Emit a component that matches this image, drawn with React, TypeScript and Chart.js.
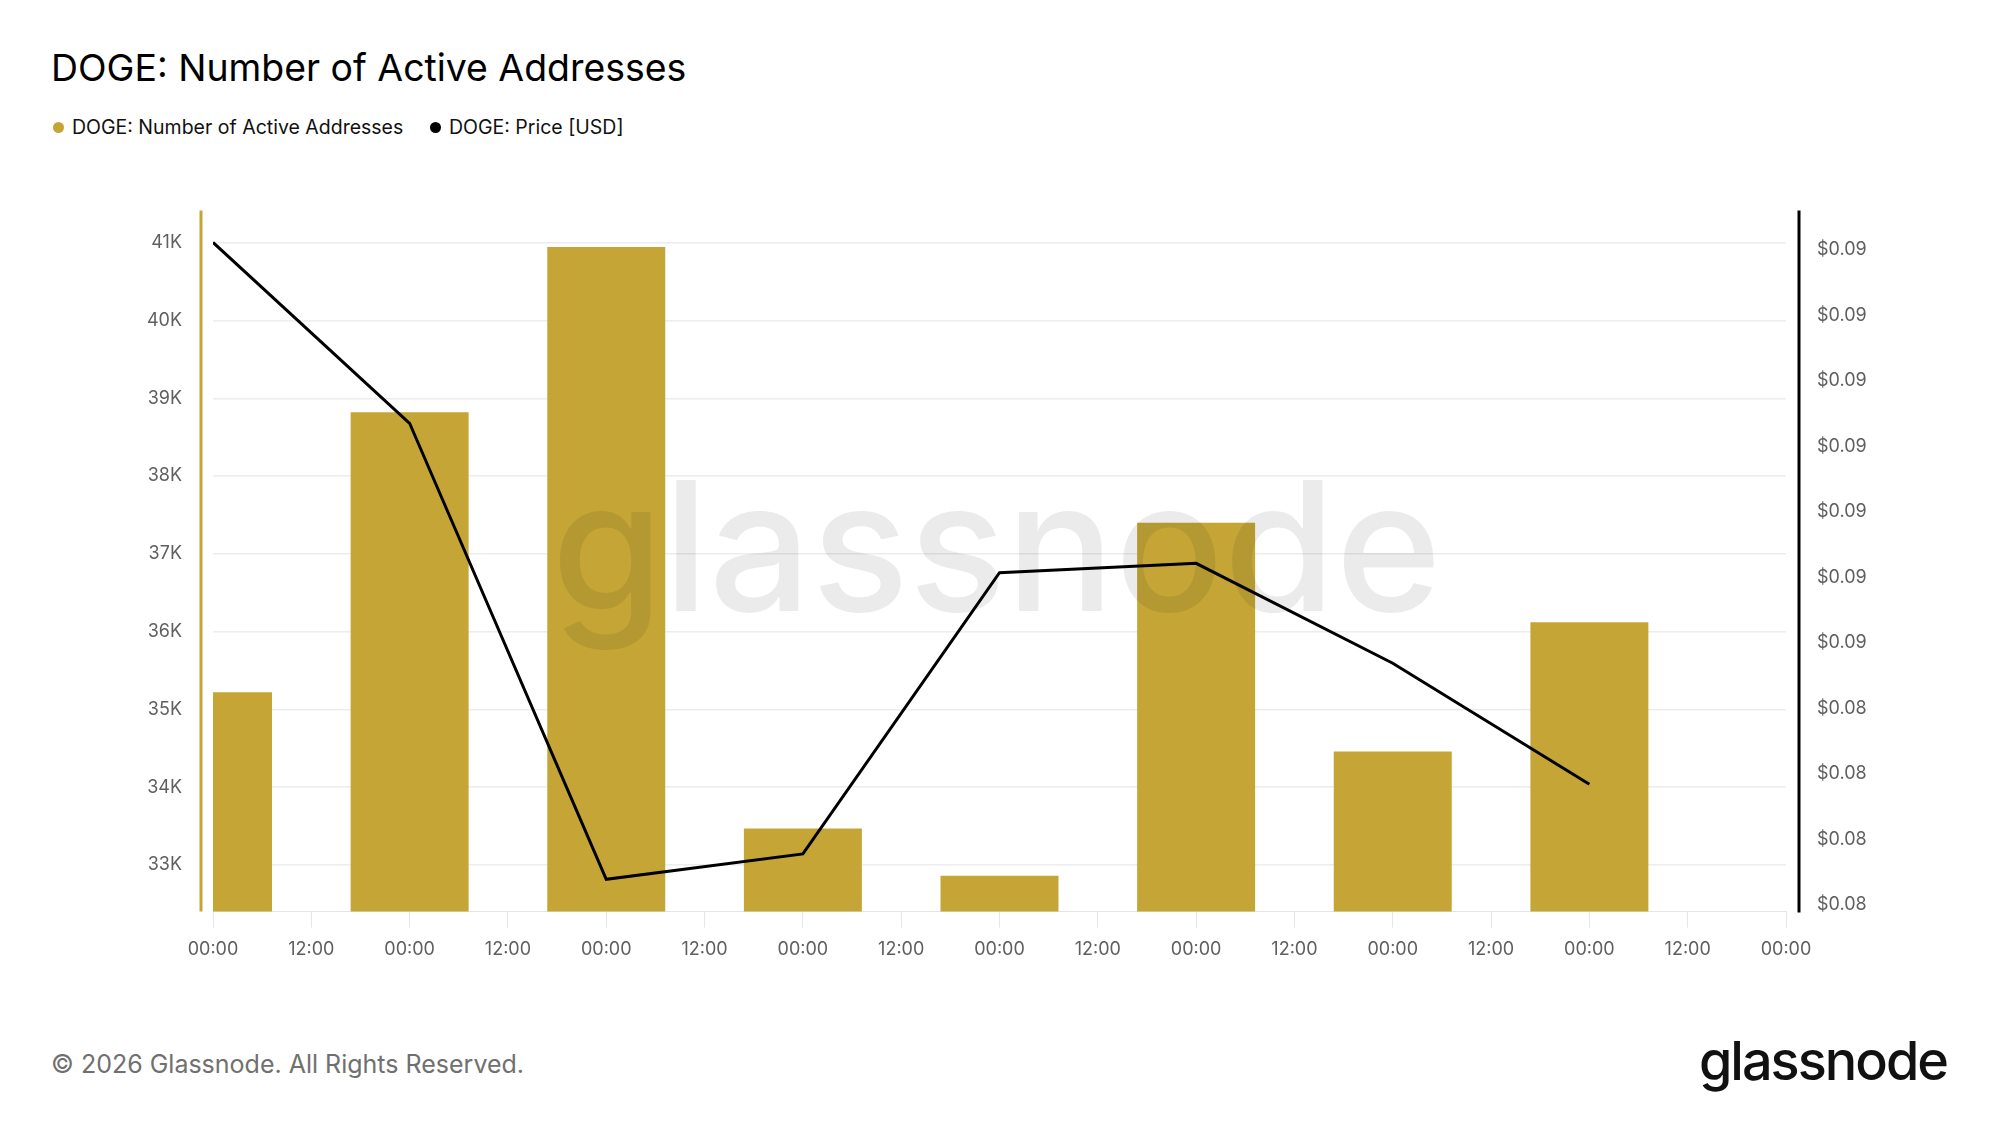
import React, { useEffect, useRef } from "react";
import { Chart, registerables } from "chart.js";

Chart.register(...registerables);

// ---- data ----
const DAYS = [0, 1, 2, 3, 4, 5, 6, 7];
const ACTIVE_ADDRESSES = [35220, 38820, 40945, 33470, 32860, 37400, 34460, 36120];
const PRICE_USD = [0.088057, 0.086676, 0.083195, 0.083388, 0.085535, 0.085607, 0.084844, 0.08392];

const X_TICK_VALUES = [0, 0.5, 1, 1.5, 2, 2.5, 3, 3.5, 4, 4.5, 5, 5.5, 6, 6.5, 7, 7.5, 8];
const X_TICK_LABELS = [
  "00:00", "12:00", "00:00", "12:00", "00:00", "12:00", "00:00", "12:00", "00:00",
  "12:00", "00:00", "12:00", "00:00", "12:00", "00:00", "12:00", "00:00",
];
const ADDR_TICKS = [33000, 34000, 35000, 36000, 37000, 38000, 39000, 40000, 41000];
const PRICE_TICKS = [0.083, 0.0835, 0.084, 0.0845, 0.085, 0.0855, 0.086, 0.0865, 0.087, 0.0875, 0.088];
const X_RANGE = [0, 8];
const ADDR_RANGE = [32400, 41400];
const PRICE_RANGE = [0.082948, 0.088292];

const TITLE = "DOGE: Number of Active Addresses";
const LEGEND_ADDR = "DOGE: Number of Active Addresses";
const LEGEND_PRICE = "DOGE: Price [USD]";
const FOOTER = "© 2026 Glassnode. All Rights Reserved.";
const LOGO = "glassnode";

// ---- styles ----
const GOLD = "#C4A536";
const FONT = "Inter, 'Noto Sans', sans-serif";
const TICK_COLOR = "#5f5f5f";
const GRID_COLOR = "#ececf1";

const axisLinesPlugin = {
  id: "axisLines",
  afterDraw(chart: any) {
    const { ctx, chartArea } = chart;
    ctx.save();
    ctx.lineWidth = 3;
    ctx.strokeStyle = GOLD;
    ctx.beginPath();
    ctx.moveTo(chartArea.left - 12, chartArea.top - 1);
    ctx.lineTo(chartArea.left - 12, chartArea.bottom);
    ctx.stroke();
    ctx.strokeStyle = "#000000";
    ctx.beginPath();
    ctx.moveTo(chartArea.right + 13, chartArea.top - 1);
    ctx.lineTo(chartArea.right + 13, chartArea.bottom + 1);
    ctx.stroke();
    ctx.restore();
  },
};

const watermarkPlugin = {
  id: "watermark",
  afterDatasetDraw(chart: any, args: any) {
    if (args.meta.type !== "bar") return;
    const { ctx, chartArea } = chart;
    ctx.save();
    ctx.font = `500 100px ${FONT}`;
    const w = ctx.measureText(LOGO).width;
    const size = (100 * (chartArea.width * 0.566)) / w;
    ctx.font = `500 ${size}px ${FONT}`;
    ctx.fillStyle = "rgba(0,0,0,0.08)";
    ctx.textAlign = "center";
    ctx.textBaseline = "alphabetic";
    const cx = (chartArea.left + chartArea.right) / 2 - 3;
    const cy = (chartArea.top + chartArea.bottom) / 2;
    ctx.fillText(LOGO, cx, cy + size * 0.275);
    ctx.restore();
  },
};

export default function App() {
  const ref = useRef<HTMLCanvasElement | null>(null);

  useEffect(() => {
    if (!ref.current) return;
    const tickFont = { family: FONT, size: 18 };
    const chart = new Chart(ref.current, {
      type: "bar",
      data: {
        datasets: [
          {
            type: "line",
            label: LEGEND_PRICE,
            data: DAYS.map((d, i) => ({ x: d, y: PRICE_USD[i] })),
            xAxisID: "x",
            yAxisID: "yPrice",
            borderColor: "#000000",
            borderWidth: 3,
            pointRadius: 0,
            tension: 0,
            order: 0,
          } as any,
          {
            type: "bar",
            label: LEGEND_ADDR,
            data: DAYS.map((d, i) => ({ x: d, y: ACTIVE_ADDRESSES[i] })),
            xAxisID: "x",
            yAxisID: "yAddr",
            backgroundColor: GOLD,
            borderWidth: 0,
            barPercentage: 1.2,
            categoryPercentage: 1,
            order: 1,
          } as any,
        ],
      },
      options: {
        animation: false,
        responsive: false,
        devicePixelRatio: 1,
        layout: { padding: { top: 61.6, bottom: 18.4, left: 0, right: 0 } },
        plugins: { legend: { display: false }, tooltip: { enabled: false }, title: { display: false } },
        scales: {
          x: {
            type: "linear",
            min: X_RANGE[0],
            max: X_RANGE[1],
            offset: false,
            afterBuildTicks: (s: any) => {
              s.ticks = X_TICK_VALUES.map((v) => ({ value: v }));
            },
            ticks: {
              autoSkip: false,
              maxRotation: 0,
              padding: 11.5,
              color: TICK_COLOR,
              font: tickFont,
              callback: (_v: any, i: number) => X_TICK_LABELS[i],
            },
            grid: { offset: false, drawOnChartArea: false, drawTicks: true, tickLength: 16, color: "#e4e4ea" },
            border: { display: true, color: "#e4e4ea", width: 1 },
            afterFit: (s: any) => {
              s.height = 50;
            },
          } as any,
          yAddr: {
            type: "linear",
            position: "left",
            min: ADDR_RANGE[0],
            max: ADDR_RANGE[1],
            beginAtZero: false,
            afterBuildTicks: (s: any) => {
              s.ticks = ADDR_TICKS.map((v) => ({ value: v }));
            },
            ticks: {
              padding: 31,
              color: TICK_COLOR,
              font: tickFont,
              callback: (v: any) => `${Math.round(v / 1000)}K`,
            },
            grid: { drawTicks: false, color: GRID_COLOR, lineWidth: 1.5 },
            border: { display: false },
            afterFit: (s: any) => {
              s.width = 213;
            },
          } as any,
          yPrice: {
            type: "linear",
            position: "right",
            min: PRICE_RANGE[0],
            max: PRICE_RANGE[1],
            beginAtZero: false,
            afterBuildTicks: (s: any) => {
              s.ticks = PRICE_TICKS.map((v) => ({ value: v }));
            },
            ticks: {
              padding: 31,
              color: TICK_COLOR,
              font: tickFont,
              callback: (v: any) => `$${Number(v).toFixed(2)}`,
            },
            grid: { drawOnChartArea: false, drawTicks: false },
            border: { display: false },
            afterFit: (s: any) => {
              s.width = 213;
            },
          } as any,
        },
      } as any,
      plugins: [watermarkPlugin, axisLinesPlugin],
    });
    return () => chart.destroy();
  }, []);

  const dot = (color: string, left: number) => (
    <div
      style={{
        position: "absolute",
        left,
        top: 122,
        width: 11,
        height: 11,
        borderRadius: "50%",
        background: color,
      }}
    />
  );

  return (
    <div
      style={{
        position: "absolute",
        left: 0,
        top: 0,
        width: 1999,
        height: 1125,
        background: "#ffffff",
        fontFamily: FONT,
        overflow: "hidden",
      }}
    >
      <div
        style={{
          position: "absolute",
          left: 51,
          top: 49,
          fontSize: 37.4,
          lineHeight: "37.4px",
          color: "#000",
          whiteSpace: "nowrap",
        }}
      >
        {TITLE}
      </div>
      {dot(GOLD, 53)}
      <div
        style={{ position: "absolute", left: 72, top: 118, fontSize: 19.5, lineHeight: "19.5px", color: "#111", whiteSpace: "nowrap" }}
      >
        {LEGEND_ADDR}
      </div>
      {dot("#000000", 430)}
      <div
        style={{ position: "absolute", left: 449, top: 118, fontSize: 19.5, lineHeight: "19.5px", color: "#111", whiteSpace: "nowrap" }}
      >
        {LEGEND_PRICE}
      </div>
      <canvas
        ref={ref}
        width={1999}
        height={830}
        style={{ position: "absolute", left: 0, top: 150, width: 1999, height: 830 }}
      />
      <div
        style={{ position: "absolute", left: 51, top: 1052, fontSize: 25, lineHeight: "25px", color: "#707070", whiteSpace: "nowrap" }}
      >
        {FOOTER}
      </div>
      <div
        style={{
          position: "absolute",
          right: 52,
          top: 1034,
          fontSize: 54,
          lineHeight: "54px",
          fontWeight: 500,
          letterSpacing: "-2px",
          color: "#111",
          whiteSpace: "nowrap",
        }}
      >
        {LOGO}
      </div>
    </div>
  );
}
